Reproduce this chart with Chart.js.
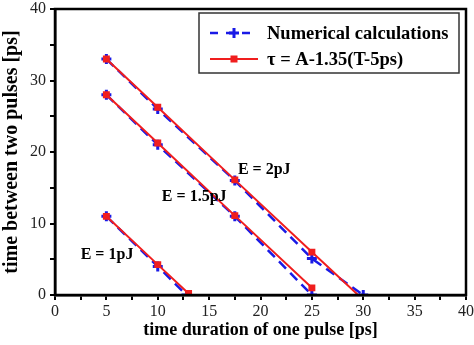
<!DOCTYPE html>
<html>
<head>
<meta charset="utf-8">
<script src="https://cdn.jsdelivr.net/npm/chart.js@4.4.1/dist/chart.umd.min.js"></script>
<style>
  html, body { margin: 0; padding: 0; background: #fff; }
  #wrap { width: 474px; height: 345px; }
</style>
</head>
<body>
<div id="wrap"><canvas id="chart" width="474" height="345"></canvas></div>
<script>
// pulse duration T [ps] and pulse separation tau [ps]
var num2T = [5, 10, 17.5, 25, 30];
var num2Tau = [33, 26, 16, 5.1, 0];
var num15T = [5, 10, 17.5, 25];
var num15Tau = [28, 21, 11, 0];
var num1T = [5, 10, 12.8];
var num1Tau = [11, 4, 0];

var fit2T = [5, 10, 17.5, 25, 29.5];
var fit2Tau = [33, 26.25, 16.1, 6, 0];
var fit15T = [5, 10, 17.5, 25];
var fit15Tau = [28, 21.25, 11.1, 1];
var fit1T = [5, 10, 13];
var fit1Tau = [11, 4.25, 0.2];

var labels = [
    { text: "E = 2pJ", x: 17.8, y: 17.5 },
    { text: "E = 1.5pJ", x: 10.4, y: 13.7 },
    { text: "E = 1pJ", x: 2.5, y: 5.6 }
];

var BLUE = "#1a1ae6";
var RED = "#f01e1e";
var SERIF = "'Liberation Serif', 'Times New Roman', serif";

function pts(xs, ys) {
    return xs.map(function(v, i) { return { x: v, y: ys[i] }; });
}

function numSet(xs, ys) {
    return {
        data: pts(xs, ys), borderColor: BLUE, backgroundColor: BLUE,
        borderWidth: 2.5, borderDash: [10, 6], pointStyle: "cross",
        pointRadius: 5, pointBorderWidth: 3, order: 2
    };
}

function fitSet(xs, ys, lastHidden) {
    var r = xs.map(function(v, i) { return (lastHidden && i == xs.length - 1) ? 0 : 3.5; });
    return {
        data: pts(xs, ys), borderColor: RED, backgroundColor: RED,
        borderWidth: 2, pointStyle: "rect", pointRadius: r, order: 1
    };
}

var framePlugin = {
    id: "frame",
    afterDraw: function(chart) {
        var ctx = chart.ctx, a = chart.chartArea;
        var xs = chart.scales.x, ys = chart.scales.y;
        ctx.save();
        ctx.strokeStyle = "#000";
        ctx.lineWidth = 2.5;
        ctx.strokeRect(a.left, a.top, a.right - a.left, a.bottom - a.top);

        // annotations
        ctx.fillStyle = "#000";
        ctx.font = "bold 16px " + SERIF;
        ctx.textBaseline = "middle";
        labels.forEach(function(l) {
            ctx.fillText(l.text, xs.getPixelForValue(l.x), ys.getPixelForValue(l.y));
        });

        // legend box
        var bx = 199, by = 13, bw = 260, bh = 60;
        ctx.fillStyle = "#fff";
        ctx.fillRect(bx, by, bw, bh);
        ctx.lineWidth = 1.5;
        ctx.strokeStyle = "#333";
        ctx.strokeRect(bx, by, bw, bh);

        var y1 = 33, y2 = 59;
        ctx.strokeStyle = BLUE;
        ctx.lineWidth = 2.5;
        ctx.setLineDash([8, 8]);
        ctx.beginPath(); ctx.moveTo(210, y1); ctx.lineTo(258, y1); ctx.stroke();
        ctx.setLineDash([]);
        ctx.lineWidth = 3;
        ctx.beginPath();
        ctx.moveTo(229, y1); ctx.lineTo(239, y1);
        ctx.moveTo(234, y1 - 5); ctx.lineTo(234, y1 + 5);
        ctx.stroke();

        ctx.strokeStyle = RED;
        ctx.lineWidth = 2;
        ctx.beginPath(); ctx.moveTo(210, y2); ctx.lineTo(258, y2); ctx.stroke();
        ctx.fillStyle = RED;
        ctx.fillRect(230.5, y2 - 3.5, 7, 7);

        ctx.fillStyle = "#000";
        ctx.font = "bold 18.5px " + SERIF;
        ctx.fillText("Numerical calculations", 267, y1 + 1);
        ctx.fillText("\u03c4 = A-1.35(T-5ps)", 267, y2 + 1);
        ctx.restore();
    }
};

new Chart(document.getElementById("chart"), {
    type: "line",
    data: {
        datasets: [
            numSet(num2T, num2Tau), numSet(num15T, num15Tau), numSet(num1T, num1Tau),
            fitSet(fit2T, fit2Tau, true), fitSet(fit15T, fit15Tau, false), fitSet(fit1T, fit1Tau, false)
        ]
    },
    options: {
        responsive: false,
        animation: false,
        layout: { padding: { top: 9, right: 8, left: 0, bottom: 0 } },
        plugins: { legend: { display: false }, tooltip: { enabled: false } },
        scales: {
            x: {
                type: "linear", min: 0, max: 40,
                ticks: {
                    stepSize: 2.5, autoSkip: false, maxRotation: 0, color: "#222", padding: 2,
                    font: { family: SERIF, size: 16 },
                    callback: function(v) { return v % 5 == 0 ? v : ""; }
                },
                grid: { drawOnChartArea: false, drawTicks: true, tickLength: 5, color: "#000", lineWidth: 2 },
                border: { display: true, color: "#000", width: 2.5 },
                title: {
                    display: true, text: "time duration of one pulse [ps]", color: "#000",
                    font: { family: SERIF, size: 18, weight: "bold" }, padding: { top: 0, bottom: 4 }
                },
                afterFit: function(s) { s.height = 50; s.paddingRight = 0; }
            },
            y: {
                type: "linear", min: 0, max: 40,
                ticks: {
                    stepSize: 5, autoSkip: false, color: "#222", padding: 4,
                    font: { family: SERIF, size: 16 },
                    callback: function(v) { return v % 10 == 0 ? v : ""; }
                },
                grid: { drawOnChartArea: false, drawTicks: true, tickLength: 5, color: "#000", lineWidth: 2 },
                border: { display: true, color: "#000", width: 2.5 },
                title: {
                    display: true, text: "time between two pulses [ps]", color: "#000",
                    font: { family: SERIF, size: 20, weight: "bold" }, padding: { top: 0, bottom: 1 }
                },
                afterFit: function(s) { s.width = 55; s.paddingTop = 0; }
            }
        }
    },
    plugins: [framePlugin]
});
</script>
</body>
</html>
